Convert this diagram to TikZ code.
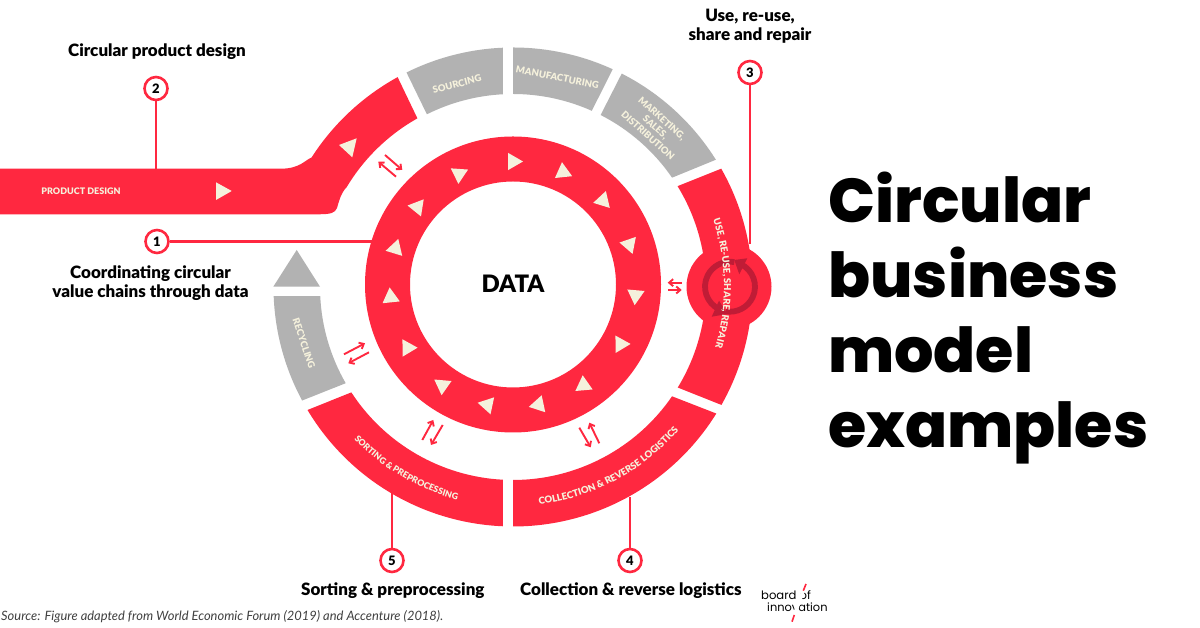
\documentclass[tikz,border=0pt]{standalone}
\usepackage{fontspec}
\setmainfont{Lato}[BoldFont={Lato Black}]
\newfontfamily\bigfont{Poppins ExtraBold}
\newfontfamily\logofont{Poppins}
\usetikzlibrary{arrows.meta,decorations.text}
\definecolor{rd}{HTML}{FF2840}
\definecolor{gy}{HTML}{B2B2B2}
\definecolor{cr}{HTML}{F5F1DC}
\definecolor{dk}{HTML}{C01C36}
\newcommand{\ringtri}[1]{\fill[cr] (#1:123) ++(#1-90:10) -- ++(#1-90+150:17.32) -- ++(#1-90+270:17.32) -- cycle;}
\tikzset{
  x=1pt,y=1pt,
  redseg/.style={fill=rd},
  greyseg/.style={fill=gy},
  numnode/.style={circle,draw=rd,line width=2.6pt,fill=white,minimum size=23pt,inner sep=0pt,font=\fontsize{13}{13}\selectfont\bfseries,text=black},
  lead/.style={draw=rd,line width=2.4pt},
  swaparrow/.style={draw=rd,line width=1.9pt,-{Straight Barb[length=4pt,width=7pt]}},
  captext/.style={font=\fontsize{17}{19}\selectfont\bfseries,text=black,align=center,inner sep=0pt},
  titletext/.style={anchor=base west,inner sep=0pt,font=\bigfont\fontsize{62}{62}\selectfont},
  seglabel/.style={font=\fontsize{9.5}{9.5}\selectfont\bfseries,text=cr,inner sep=0pt},
  curv/.style={postaction={decorate},decoration={text along path,text align=center,text={|\fontsize{9.5}{9.5}\selectfont\bfseries\color{cr}|#1}}},
  curvsmall/.style={postaction={decorate},decoration={text along path,text align=center,text={|\fontsize{8.8}{8.8}\selectfont\bfseries\color{cr}|#1}}},
}
\begin{document}
\begin{tikzpicture}
\useasboundingbox (0,0) rectangle (1200,628);
\fill[white] (0,0) rectangle (1200,628);
% outer ring, centre at pixel (513,287)
\begin{scope}[shift={(513,341)}]
\fill[greyseg] (92.4:239.5) arc[start angle=92.4,end angle=116.4,radius=239.5] -- (116.5:193) arc[start angle=116.5,end angle=93,radius=193] -- cycle;
\fill[greyseg] (90:239.5) arc[start angle=90,end angle=65.4,radius=239.5] -- (65.9:193) arc[start angle=65.9,end angle=90,radius=193] -- cycle;
\fill[greyseg] (63:239.5) arc[start angle=63,end angle=32.1,radius=239.5] -- (34.5:193) arc[start angle=34.5,end angle=63,radius=193] -- cycle;
\fill[greyseg] (182.2:239.5) arc[start angle=182.2,end angle=208.3,radius=239.5] -- (209.9:193) arc[start angle=209.9,end angle=182.7,radius=193] -- cycle;
\fill[redseg] (29.6:239.5) arc[start angle=29.6,end angle=-29.5,radius=239.5] -- (-31.4:193) arc[start angle=-31.4,end angle=31.5,radius=193] -- cycle;
\fill[redseg] (-31.9:239.5) arc[start angle=-31.9,end angle=-90,radius=239.5] -- (-90:193) arc[start angle=-90,end angle=-34.5,radius=193] -- cycle;
\fill[redseg] (-92.4:239.5) arc[start angle=-92.4,end angle=-149.1,radius=239.5] -- (-146.9:193) arc[start angle=-146.9,end angle=-93,radius=193] -- cycle;
% product design band
\fill[redseg] (118.8:239.5) arc[start angle=118.8,end angle=147.3,radius=239.5]
  .. controls (-208,127) and (-213,118.3) .. (-232,118.3) -- (-513,118.3) -- (-513,72.7)
  -- (-195,72.7) .. controls (-182,72.7) and (-178,74) .. (-176,79)
  .. controls (-174,86) and (-172,94) .. (149:194) arc[start angle=149,end angle=119.4,radius=193] -- cycle;
\end{scope}
% recycling arrow head
\fill[gy] (296.7,378) -- (273.3,341.3) -- (320,341.3) -- cycle;
% wheel on the use segment
\fill[rd] (729,341.3) circle[radius=42.5];
\draw[dk,line width=5.8pt] (730,341.3) ++(65:25) arc[start angle=65,end angle=-100,radius=25];
\draw[dk,line width=5.8pt] (730,341.3) ++(244:25) arc[start angle=244,end angle=80,radius=25];
\fill[dk] (734.3,368) -- (747.3,369.7) -- (739.3,353.7) -- cycle;
\fill[dk] (711.7,311.3) -- (719,327.3) -- (727.3,314) -- cycle;
% inner ring
\begin{scope}[shift={(513,343.5)}]
\fill[rd,even odd rule] (0,0) circle[radius=148] (0,0) circle[radius=103];
\foreach \a in {90,66,43,19,-5,-29,-55,-78,-102,-125,-149,-174,-197,-219,-244}{\ringtri{\a}}
\end{scope}
\node[font=\fontsize{24}{24}\selectfont\bfseries,text=black] (data) at (513,344) {DATA};
% triangles on the outer band
\fill[cr] (216,445.7) -- (216,428) -- (231.7,437) -- cycle;
\fill[cr] (339,483) -- (356.7,489.7) -- (352.3,470.7) -- cycle;
% swap arrows
\draw[swaparrow] (385,473) -- (402.3,458);
\draw[swaparrow] (396,451.3) -- (378.3,466.3);
\draw[swaparrow] (681.7,345.3) -- (667.7,345.3);
\draw[swaparrow] (668.3,338) -- (681.7,338);
\draw[swaparrow] (579.3,200.3) -- (590.7,180.7);
\draw[swaparrow] (599.3,184.7) -- (589.3,205.3);
\draw[swaparrow] (422.3,188) -- (433.3,208);
\draw[swaparrow] (442.7,203) -- (431,183);
\draw[swaparrow] (344,273.7) -- (365,284.7);
\draw[swaparrow] (369,275.7) -- (348.3,264.7);
% labels on straight or curved segments
\node[font=\fontsize{9}{9}\selectfont\bfseries,text=cr,inner sep=0pt] (pd) at (81,437) {PRODUCT DESIGN};
\node[seglabel,rotate=14] (lsrc) at (457,544) {SOURCING};
\node[seglabel,rotate=-11] (lman) at (557.5,550.5) {MANUFACTURING};
\node[seglabel,rotate=-42] (lmkt) at (661.5,509) {MARKETING,};
\node[seglabel,rotate=-42] (lsal) at (655,500.5) {SALES,};
\node[seglabel,rotate=-42] (ldis) at (648,492.5) {DISTRIBUTION};
\node[seglabel,rotate=-71.5] (lrec) at (304,284.5) {RECYCLING};
\begin{scope}[shift={(513,341)}]
\path[curv={USE, RE-USE, SHARE, REPAIR}] (31:211) arc[start angle=31,end angle=-29,radius=211];
\path[curv={COLLECTION {\&} REVERSE LOGISTICS}] (-87:219) arc[start angle=-87,end angle=-37,radius=219];
\path[curvsmall={SORTING {\&} PREPROCESSING}] (-149:220) arc[start angle=-149,end angle=-92,radius=220];
\end{scope}
% numbered callouts
\node[numnode] (n1) at (157,386.5) {1};
\node[numnode] (n2) at (156,539.5) {2};
\node[numnode] (n3) at (750,555.5) {3};
\node[numnode] (n4) at (630,67.5) {4};
\node[numnode] (n5) at (392,67.5) {5};
\coordinate (e1) at (372,386.5);
\coordinate (e2) at (156,459);
\coordinate (e3) at (750,384);
\coordinate (e4) at (630,131);
\coordinate (e5) at (392,136);
\draw[lead] (n1) -- (e1);
\draw[lead] (n2) -- (e2);
\draw[lead] (n3) -- (e3);
\draw[lead] (n4) -- (e4);
\draw[lead] (n5) -- (e5);
\node[captext] (c1) at (150.5,345) {Coordinating circular\\value chains through data};
\node[captext] (c2) at (157,576) {Circular product design};
\node[captext] (c3) at (750,601.5) {Use, re-use,\\share and repair};
\node[captext,anchor=west] (c4) at (520,37.5) {Collection \& reverse logistics};
\node[captext,anchor=west] (c5) at (301,37.5) {Sorting \& preprocessing};
% title
\node[titletext] (t1) at (828,405) {Circular};
\node[titletext] (t2) at (828,330) {business};
\node[titletext] (t3) at (828,255) {model};
\node[titletext] (t4) at (828,180) {examples};
% source and logo
\node[anchor=base west,inner sep=0pt,font=\fontsize{12.9}{13}\selectfont\itshape,text=black!75] (src) at (1,7) {Source: Figure adapted from World Economic Forum (2019) and Accenture (2018).};
\node[anchor=base west,inner sep=0pt,font=\logofont\fontsize{11.6}{13}\selectfont] (lg1) at (761,28) {board of};
\node[anchor=base west,inner sep=0pt,font=\logofont\fontsize{11.4}{13}\selectfont] (lg2) at (767,16.3) {innovation};
\draw[white,line width=3.5pt] (803.3,37.3) -- (794.3,13);
\draw[rd,line width=1.6pt] (806,44) -- (803.3,37.3);
\draw[rd,line width=1.6pt] (794.3,13) -- (792,6.3);
\end{tikzpicture}
\end{document}
